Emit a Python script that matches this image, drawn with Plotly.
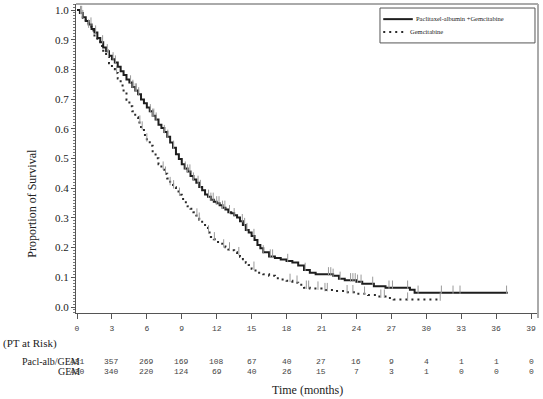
import plotly.graph_objects as go

# ---- data ----
months_ticks = list(range(0, 40, 3))

nab_time = [0, 0.25, 0.5, 0.75, 1.0, 1.25, 1.5, 1.75, 2.0, 2.25, 2.5, 2.75, 3.0, 3.25, 3.5,
            3.75, 4.0, 4.25, 4.5, 4.75, 5.0, 5.25, 5.5, 5.75, 6.0, 6.25, 6.5, 6.75, 7.0,
            7.25, 7.5, 7.75, 8.0, 8.25, 8.5, 8.75, 9.0, 9.25, 9.5, 9.75, 10.0, 10.25, 10.5,
            10.75, 11.0, 11.25, 11.5, 11.75, 12.0, 12.25, 12.5, 12.75, 13.0, 13.25, 13.5,
            13.75, 14.0, 14.25, 14.5, 14.75, 15.0, 15.25, 15.5, 15.75, 16.0, 16.5, 17.0,
            17.5, 18.0, 18.5, 19.0, 19.5, 20.0, 20.5, 22.0, 22.5, 23.0, 24.0, 24.5, 25.5,
            26.5, 28.6, 29.0, 37.0]
nab_surv = [1.0, 0.99, 0.976, 0.963, 0.951, 0.936, 0.924, 0.906, 0.891, 0.874, 0.861, 0.846,
            0.834, 0.823, 0.809, 0.794, 0.781, 0.766, 0.756, 0.741, 0.729, 0.716, 0.699,
            0.686, 0.672, 0.659, 0.644, 0.631, 0.614, 0.603, 0.589, 0.573, 0.554, 0.536,
            0.514, 0.498, 0.481, 0.466, 0.456, 0.441, 0.429, 0.418, 0.404, 0.393, 0.379,
            0.371, 0.361, 0.354, 0.349, 0.343, 0.334, 0.328, 0.319, 0.316, 0.309, 0.301,
            0.289, 0.276, 0.259, 0.251, 0.239, 0.226, 0.209, 0.198, 0.184, 0.17, 0.165,
            0.16, 0.155, 0.15, 0.14, 0.125, 0.115, 0.11, 0.105, 0.095, 0.09, 0.085, 0.078,
            0.07, 0.065, 0.058, 0.048, 0.048]

gem_time = [0, 0.25, 0.5, 0.75, 1.0, 1.25, 1.5, 1.75, 2.0, 2.25, 2.5, 2.75, 3.0, 3.25, 3.5,
            3.75, 4.0, 4.25, 4.5, 4.75, 5.0, 5.25, 5.5, 5.75, 6.0, 6.25, 6.5, 6.75, 7.0,
            7.25, 7.5, 7.75, 8.0, 8.25, 8.5, 8.75, 9.0, 9.25, 9.5, 9.75, 10.0, 10.25, 10.5,
            10.75, 11.0, 11.25, 11.5, 11.75, 12.0, 12.25, 12.5, 12.75, 13.0, 13.25, 13.5,
            13.75, 14.0, 14.25, 14.5, 14.75, 15.0, 15.25, 15.5, 16.0, 16.5, 17.0, 17.5,
            18.0, 18.5, 19.0, 19.5, 20.0, 21.0, 22.0, 23.0, 24.0, 25.0, 25.7, 26.5, 27.2,
            31.2]
gem_surv = [1.0, 0.99, 0.974, 0.961, 0.944, 0.931, 0.914, 0.899, 0.879, 0.863, 0.844, 0.821,
            0.801, 0.788, 0.769, 0.746, 0.719, 0.698, 0.676, 0.659, 0.639, 0.621, 0.601,
            0.579, 0.561, 0.543, 0.524, 0.501, 0.481, 0.466, 0.449, 0.433, 0.414, 0.403,
            0.389, 0.378, 0.364, 0.353, 0.339, 0.331, 0.319, 0.308, 0.294, 0.283, 0.269,
            0.251, 0.236, 0.228, 0.219, 0.213, 0.204, 0.201, 0.194, 0.191, 0.184, 0.178,
            0.169, 0.161, 0.149, 0.141, 0.129, 0.123, 0.115, 0.11, 0.105, 0.097, 0.093,
            0.088, 0.082, 0.075, 0.065, 0.062, 0.057, 0.054, 0.05, 0.045, 0.04, 0.035,
            0.03, 0.025, 0.025]

nab_censor = [0.3, 0.5, 1.2, 1.6, 2.2, 2.6, 3.1, 3.3, 4.6, 4.8, 5.0, 5.1, 5.3, 6.3, 6.5, 6.6,
              6.8, 7.5, 7.8, 8.3, 9.3, 9.5, 9.7, 10.0, 10.4, 10.6, 11.3, 11.5, 11.7, 12.0,
              12.2, 12.5, 12.7, 13.1, 13.5, 14.2, 14.4, 14.6, 15.2, 16.0, 16.6, 16.8, 18.1,
              19.6, 21.6, 21.8, 22.0, 22.6, 23.5, 23.7, 23.9, 24.1, 24.4, 25.4, 26.8, 27.1,
              28.4, 29.3, 31.3, 32.3, 32.9, 36.9]
gem_censor = [0.4, 1.0, 2.7, 3.4, 5.4, 5.6, 6.0, 7.4, 7.6, 8.0, 8.3, 8.8, 10.3, 10.5, 11.3,
              11.8, 12.6, 13.1, 13.9, 15.2, 18.3, 18.9, 19.7, 19.9, 20.7, 21.3, 21.5, 23.2,
              23.7, 24.7, 26.1, 26.4, 28.4, 31.2]

risk_nab = [431, 357, 269, 169, 108, 67, 40, 27, 16, 9, 4, 1, 1, 0]
risk_gem = [430, 340, 220, 124, 69, 40, 26, 15, 7, 3, 1, 0, 0, 0]


def step_at(times, survs, t):
    val = survs[0]
    for ti, si in zip(times, survs):
        if ti <= t:
            val = si
        else:
            break
    return val


fig = go.Figure()

fig.add_trace(go.Scatter(x=gem_time, y=gem_surv, mode="lines", line_shape="hv",
                         line=dict(color="#2a2a2a", width=2, dash="2px,4px"),
                         name="Gemcitabine", hoverinfo="skip"))
fig.add_trace(go.Scatter(x=nab_time, y=nab_surv, mode="lines", line_shape="hv",
                         line=dict(color="#1e1e1e", width=2),
                         name="Paclitaxel-albumin +Gemcitabine", hoverinfo="skip"))

fig.add_trace(go.Scatter(x=nab_censor,
                         y=[step_at(nab_time, nab_surv, t) + 0.01 for t in nab_censor],
                         mode="markers",
                         marker=dict(symbol="line-ns", size=6,
                                     line=dict(color="#9a9a9a", width=1)),
                         hoverinfo="skip"))
fig.add_trace(go.Scatter(x=gem_censor,
                         y=[step_at(gem_time, gem_surv, t) + 0.01 for t in gem_censor],
                         mode="markers",
                         marker=dict(symbol="line-ns", size=6,
                                     line=dict(color="#9a9a9a", width=1)),
                         hoverinfo="skip"))

serif = "Liberation Serif"
mono = "Liberation Mono"

fig.update_layout(
    width=543, height=399,
    margin=dict(l=76, r=5, t=4, b=86),
    plot_bgcolor="white", paper_bgcolor="white",
    showlegend=False,
    xaxis=dict(range=[-0.086, 39.6], tickvals=months_ticks,
               ticktext=[str(v) for v in months_ticks],
               ticks="outside", ticklen=5, tickcolor="#555", tickwidth=1,
               ticklabelstandoff=2,
               showline=True, linecolor="#555", linewidth=1,
               showgrid=False, zeroline=False,
               tickfont=dict(family=mono, size=8, color="#444")),
    yaxis=dict(range=[-0.0202, 1.0202],
               tickvals=[i / 10 for i in range(11)],
               ticktext=[f"{i / 10:.1f}" for i in range(11)],
               ticks="outside", ticklen=4, tickcolor="#555", tickwidth=1,
               minor=dict(tick0=0, dtick=0.01, ticks="outside", ticklen=2,
                          tickcolor="#777", tickwidth=1, showgrid=False),
               showline=True, linecolor="#555", linewidth=1,
               showgrid=False, zeroline=False,
               tickfont=dict(family=serif, size=11, color="#222")),
)

# frame (top & right)
fig.add_shape(type="line", xref="paper", yref="paper", x0=0, x1=1, y0=1, y1=1,
              line=dict(color="#aaa", width=2))
fig.add_shape(type="line", xref="paper", yref="paper", x0=1, x1=1, y0=-0.016, y1=1,
              line=dict(color="#aaa", width=2))

# legend box
lx0, lx1, ly0, ly1 = 0.658, 0.9935, 0.874, 0.987
fig.add_shape(type="rect", xref="paper", yref="paper", x0=lx0, x1=lx1, y0=ly0, y1=ly1,
              line=dict(color="#555", width=1), fillcolor="white")
fig.add_shape(type="line", xref="paper", yref="paper", x0=0.665, x1=0.729,
              y0=0.951, y1=0.951, line=dict(color="#1e1e1e", width=2))
fig.add_shape(type="line", xref="paper", yref="paper", x0=0.665, x1=0.712,
              y0=0.909, y1=0.909, line=dict(color="#2a2a2a", width=2, dash="2px,4px"))
fig.add_annotation(xref="paper", yref="paper", x=0.731, y=0.953, xanchor="left",
                   yanchor="middle", text="Paclitaxel-albumin +Gemcitabine",
                   showarrow=False, font=dict(family=serif, size=6.5, color="#222"))
fig.add_annotation(xref="paper", yref="paper", x=0.718, y=0.911, xanchor="left",
                   yanchor="middle", text="Gemcitabine",
                   showarrow=False, font=dict(family=serif, size=6.5, color="#222"))

# axis titles
fig.add_annotation(xref="paper", yref="paper", x=-0.096, y=0.356, textangle=-90,
                   text="Proportion of Survival", showarrow=False,
                   xanchor="center", yanchor="middle",
                   font=dict(family=serif, size=12, color="#222"))
fig.add_annotation(xref="paper", yref="paper", x=0.5, y=-0.249, text="Time (months)",
                   showarrow=False, xanchor="center", yanchor="middle",
                   font=dict(family=serif, size=12, color="#222"))

# at-risk table
fig.add_annotation(xref="paper", yref="paper", x=-0.162, y=-0.099, xanchor="left",
                   yanchor="middle", text="(PT at Risk)", showarrow=False,
                   font=dict(family=serif, size=11, color="#222"))
fig.add_annotation(xref="paper", yref="paper", x=0.013, y=-0.156, xanchor="right",
                   yanchor="middle", text="Pacl-alb/GEM", showarrow=False,
                   font=dict(family=serif, size=10, color="#222"))
fig.add_annotation(xref="paper", yref="paper", x=0.013, y=-0.188, xanchor="right",
                   yanchor="middle", text="GEM", showarrow=False,
                   font=dict(family=serif, size=10, color="#222"))
for t, a, b in zip(months_ticks, risk_nab, risk_gem):
    fig.add_annotation(xref="x", yref="paper", x=t, y=-0.156, text=str(a),
                       showarrow=False, xanchor="center", yanchor="middle",
                       font=dict(family=mono, size=8, color="#444"))
    fig.add_annotation(xref="x", yref="paper", x=t, y=-0.188, text=str(b),
                       showarrow=False, xanchor="center", yanchor="middle",
                       font=dict(family=mono, size=8, color="#444"))

fig.write_html("out.html", config={"displayModeBar": False},
               post_script="document.body.style.margin='0px';document.body.style.padding='0px';")
